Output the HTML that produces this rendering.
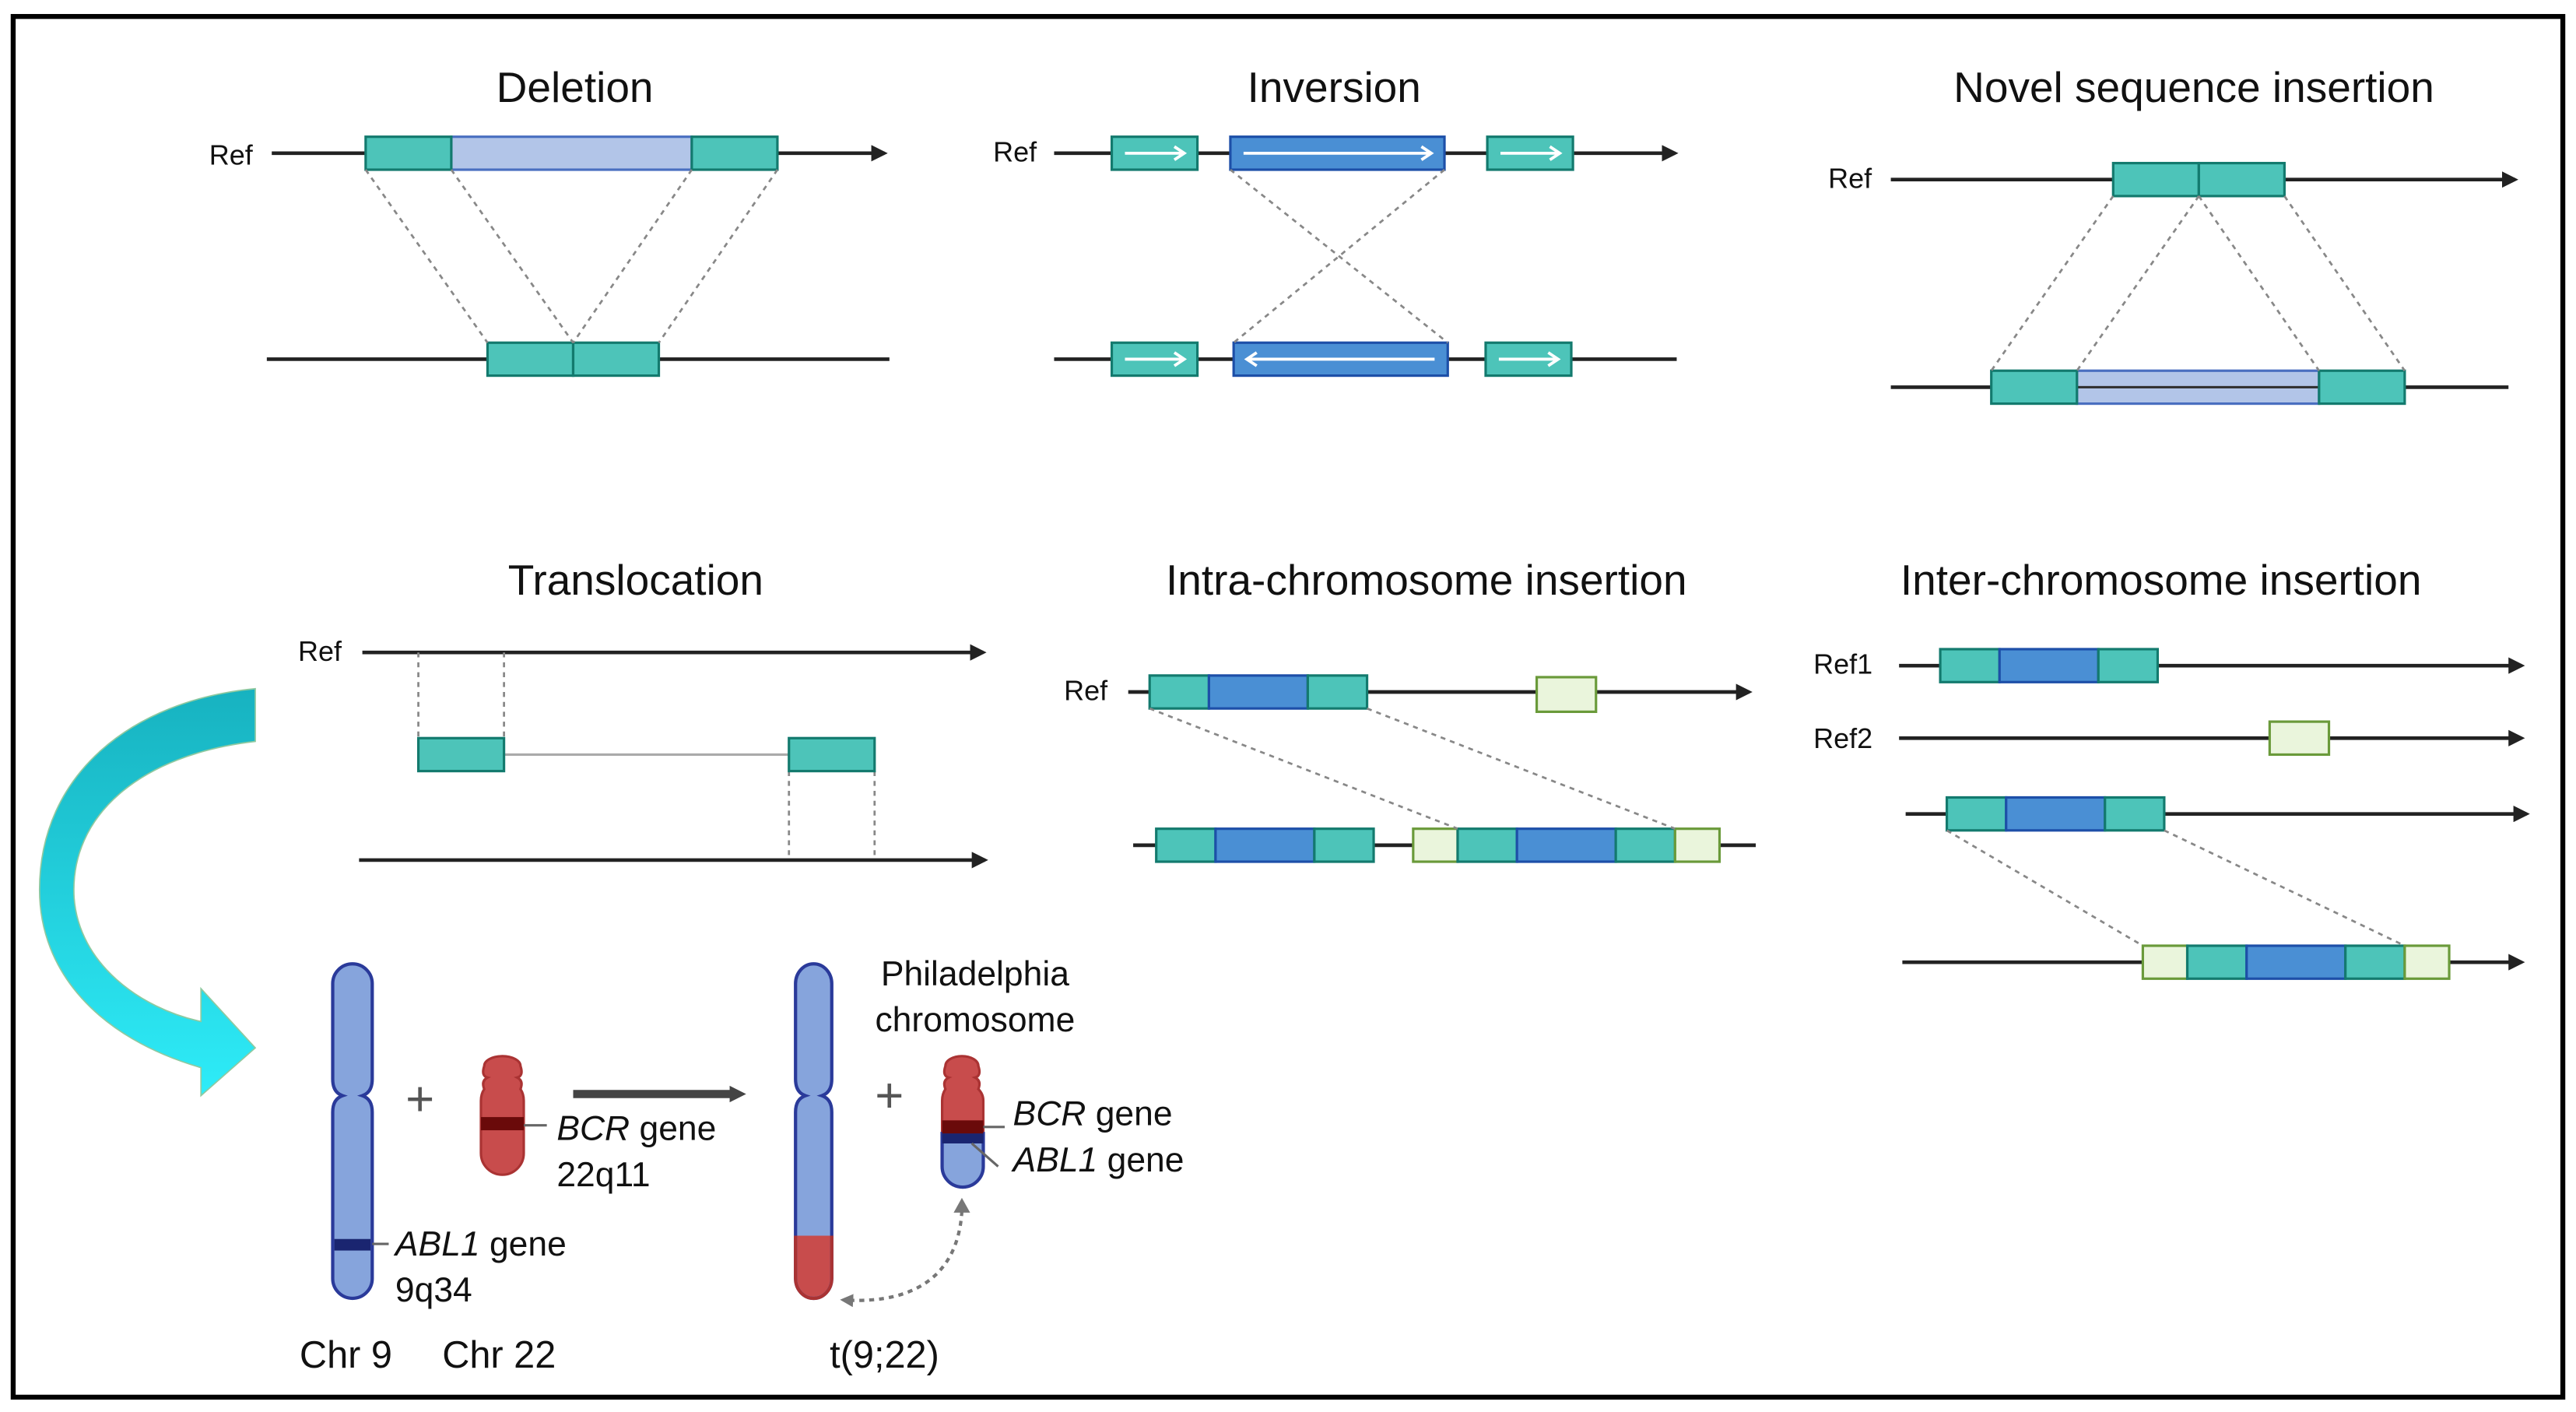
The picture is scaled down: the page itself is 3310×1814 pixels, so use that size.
<!DOCTYPE html>
<html><head><meta charset="utf-8"><style>
html,body{margin:0;padding:0;background:#fff;}
svg{display:block;}
text{font-family:"Liberation Sans",Arial,sans-serif;fill:#111;}
</style></head><body>
<svg width="3310" height="1814" viewBox="0 0 1564 857" preserveAspectRatio="none" xmlns="http://www.w3.org/2000/svg">
<defs>
<marker id="ah" markerWidth="10" markerHeight="10" refX="8" refY="5" orient="auto" markerUnits="userSpaceOnUse"><path d="M0,0 L10,5 L0,10 Z" fill="#222"/></marker>
<marker id="gh" markerWidth="8" markerHeight="8" refX="6" refY="4" orient="auto" markerUnits="userSpaceOnUse"><path d="M0,0 L8,4 L0,8 Z" fill="#777"/></marker>
<linearGradient id="cy" x1="0" y1="0" x2="0" y2="1"><stop offset="0" stop-color="#17b2c0"/><stop offset="1" stop-color="#2eecf8"/></linearGradient>
<style>
.ln{stroke:#222;stroke-width:2.2;fill:none}
.t{fill:#4dc4b9;stroke:#137a6e;stroke-width:1.5}
.b{fill:#4a8fd4;stroke:#1d4fa8;stroke-width:1.5}
.lb{fill:#b2c5e8;stroke:#4a6fc0;stroke-width:1.5}
.g{fill:#eaf5dc;stroke:#6a9a3a;stroke-width:1.5}
.d{stroke:#888;stroke-width:1.3;stroke-dasharray:3,3;fill:none}
.w{stroke:#fff;stroke-width:1.8;fill:none}
.ti{font-size:26px}
.rf{font-size:17px}
.lab{font-size:21px}
</style>
</defs>
<rect x="8" y="10" width="1548" height="838" fill="none" stroke="#000" stroke-width="3"/>

<!-- Deletion -->
<text class="ti" x="349" y="62" text-anchor="middle">Deletion</text>
<text class="rf" x="127" y="100">Ref</text>
<line class="ln" x1="165" y1="93" x2="537" y2="93" marker-end="url(#ah)"/>
<rect class="lb" x="274" y="83" width="146" height="20"/>
<rect class="t" x="222" y="83" width="52" height="20"/>
<rect class="t" x="420" y="83" width="52" height="20"/>
<line class="ln" x1="162" y1="218" x2="540" y2="218"/>
<rect class="t" x="296" y="208" width="52" height="20"/>
<rect class="t" x="348" y="208" width="52" height="20"/>
<path class="d" d="M222,103 L296,208 M274,103 L348,208 M420,103 L348,208 M472,103 L400,208"/>

<!-- Inversion -->
<text class="ti" x="810" y="62" text-anchor="middle">Inversion</text>
<text class="rf" x="603" y="98">Ref</text>
<line class="ln" x1="640" y1="93" x2="1017" y2="93" marker-end="url(#ah)"/>
<rect class="t" x="675" y="83" width="52" height="20"/>
<rect class="b" x="747" y="83" width="130" height="20"/>
<rect class="t" x="903" y="83" width="52" height="20"/>
<path class="w" d="M683,93 H719 M713,89 L719,93 L713,97 M755,93 H869 M863,89 L869,93 L863,97 M911,93 H947 M941,89 L947,93 L941,97"/>
<line class="ln" x1="640" y1="218" x2="1018" y2="218"/>
<rect class="t" x="675" y="208" width="52" height="20"/>
<rect class="b" x="749" y="208" width="130" height="20"/>
<rect class="t" x="902" y="208" width="52" height="20"/>
<path class="w" d="M683,218 H719 M713,214 L719,218 L713,222 M757,218 H871 M763,214 L757,218 L763,222 M910,218 H946 M940,214 L946,218 L940,222"/>
<path class="d" d="M747,103 L879,208 M877,103 L749,208"/>

<!-- Novel -->
<text class="ti" x="1332" y="62" text-anchor="middle">Novel sequence insertion</text>
<text class="rf" x="1110" y="114">Ref</text>
<line class="ln" x1="1148" y1="109" x2="1527" y2="109" marker-end="url(#ah)"/>
<rect class="t" x="1283" y="99" width="52" height="20"/>
<rect class="t" x="1335" y="99" width="52" height="20"/>
<line class="ln" x1="1148" y1="235" x2="1523" y2="235"/>
<rect class="lb" x="1261" y="225" width="147" height="20"/>
<line x1="1261" y1="235" x2="1408" y2="235" stroke="#333" stroke-width="1.5"/>
<rect class="t" x="1209" y="225" width="52" height="20"/>
<rect class="t" x="1408" y="225" width="52" height="20"/>
<path class="d" d="M1283,119 L1209,225 M1335,119 L1261,225 M1335,119 L1408,225 M1387,119 L1460,225"/>

<!-- Translocation -->
<text class="ti" x="386" y="361" text-anchor="middle">Translocation</text>
<text class="rf" x="181" y="401">Ref</text>
<line class="ln" x1="220" y1="396" x2="597" y2="396" marker-end="url(#ah)"/>
<path class="d" d="M254,396 V448 M306,396 V448 M479,468 V522 M531,468 V522"/>
<line x1="306" y1="458" x2="479" y2="458" stroke="#aaa" stroke-width="1.5"/>
<rect class="t" x="254" y="448" width="52" height="20"/>
<rect class="t" x="479" y="448" width="52" height="20"/>
<line class="ln" x1="218" y1="522" x2="598" y2="522" marker-end="url(#ah)"/>

<!-- Intra -->
<text class="ti" x="866" y="361" text-anchor="middle">Intra-chromosome insertion</text>
<text class="rf" x="646" y="425">Ref</text>
<line class="ln" x1="685" y1="420" x2="1062" y2="420" marker-end="url(#ah)"/>
<rect class="t" x="698" y="410" width="36" height="20"/>
<rect class="b" x="734" y="410" width="60" height="20"/>
<rect class="t" x="794" y="410" width="36" height="20"/>
<rect class="g" x="933" y="411" width="36" height="21"/>
<line class="ln" x1="688" y1="513" x2="1066" y2="513"/>
<rect class="t" x="702" y="503" width="36" height="20"/>
<rect class="b" x="738" y="503" width="60" height="20"/>
<rect class="t" x="798" y="503" width="36" height="20"/>
<rect class="g" x="858" y="503" width="27" height="20"/>
<rect class="t" x="885" y="503" width="36" height="20"/>
<rect class="b" x="921" y="503" width="60" height="20"/>
<rect class="t" x="981" y="503" width="36" height="20"/>
<rect class="g" x="1017" y="503" width="27" height="20"/>
<path class="d" d="M698,430 L885,503 M830,430 L1017,503"/>

<!-- Inter -->
<text class="ti" x="1312" y="361" text-anchor="middle">Inter-chromosome insertion</text>
<text class="rf" x="1101" y="409">Ref1</text>
<line class="ln" x1="1153" y1="404" x2="1531" y2="404" marker-end="url(#ah)"/>
<rect class="t" x="1178" y="394" width="36" height="20"/>
<rect class="b" x="1214" y="394" width="60" height="20"/>
<rect class="t" x="1274" y="394" width="36" height="20"/>
<text class="rf" x="1101" y="454">Ref2</text>
<line class="ln" x1="1153" y1="448" x2="1531" y2="448" marker-end="url(#ah)"/>
<rect class="g" x="1378" y="438" width="36" height="20"/>
<line class="ln" x1="1157" y1="494" x2="1534" y2="494" marker-end="url(#ah)"/>
<rect class="t" x="1182" y="484" width="36" height="20"/>
<rect class="b" x="1218" y="484" width="60" height="20"/>
<rect class="t" x="1278" y="484" width="36" height="20"/>
<line class="ln" x1="1155" y1="584" x2="1531" y2="584" marker-end="url(#ah)"/>
<rect class="g" x="1301" y="574" width="27" height="20"/>
<rect class="t" x="1328" y="574" width="36" height="20"/>
<rect class="b" x="1364" y="574" width="60" height="20"/>
<rect class="t" x="1424" y="574" width="36" height="20"/>
<rect class="g" x="1460" y="574" width="27" height="20"/>
<path class="d" d="M1182,504 L1301,574 M1314,504 L1460,574"/>

<!-- curved cyan arrow -->
<path d="M155,418 L155,450 C85,458 42,495 45,545 C48,585 85,612 122,620 L122,600 L155,636 L122,665 L122,648 C60,630 24,590 24,540 C24,470 80,425 155,418 Z" fill="url(#cy)" stroke="#8fc9a0" stroke-width="0.8"/>

<!-- Chr 9 -->
<path d="M202,597 A12,12 0 0 1 226,597 V655 Q226,663 220,665 Q226,667 226,675 V776 A12,12 0 0 1 202,776 V675 Q202,667 208,665 Q202,663 202,655 Z" fill="#86a4dc" stroke="#2a3a9a" stroke-width="2"/>
<rect x="203" y="752" width="22" height="7" fill="#1a2570"/>
<line x1="226" y1="755" x2="236" y2="755" stroke="#666" stroke-width="1.5"/>
<text class="lab" x="240" y="762"><tspan font-style="italic">ABL1</tspan> gene</text>
<text class="lab" x="240" y="790">9q34</text>
<text style="font-size:30px;fill:#555" x="255" y="677" text-anchor="middle">+</text>
<!-- Chr 22 -->
<path d="M294,647 A11,6 0 0 1 316,647 Q318,653 314,654 Q318,656 316,661 Q318,664 318,668 V700 A13,13 0 0 1 292,700 V668 Q292,664 294,661 Q292,656 296,654 Q292,653 294,647 Z" fill="#c84c4c" stroke="#a33" stroke-width="1.5"/>
<rect x="292" y="678" width="26" height="8" fill="#6a0a0a"/>
<line x1="318" y1="683" x2="332" y2="683" stroke="#666" stroke-width="1.5"/>
<text class="lab" x="338" y="692"><tspan font-style="italic">BCR</tspan> gene</text>
<text class="lab" x="338" y="720">22q11</text>
<line x1="348" y1="664" x2="446" y2="664" stroke="#444" stroke-width="5"/>
<path d="M443,659 L453,664 L443,669 Z" fill="#444"/>
<!-- der 9 -->
<path d="M483,597 A11,12 0 0 1 505,597 V655 Q505,663 499,665 Q505,667 505,675 V776 A11,12 0 0 1 483,776 V675 Q483,667 489,665 Q483,663 483,655 Z" fill="#86a4dc" stroke="#2a3a9a" stroke-width="2"/>
<path d="M484,750 H504 V776 A10,11 0 0 1 484,776 Z" fill="#c84c4c"/>
<path d="M483,750 V776 A11,12 0 0 0 505,776 V750" fill="none" stroke="#a33" stroke-width="2"/>
<text style="font-size:30px;fill:#555" x="540" y="675" text-anchor="middle">+</text>
<!-- Ph -->
<path d="M574,647 A10,6 0 0 1 594,647 Q596,653 592,654 Q596,656 594,661 Q597,664 597,668 V708 A12.5,12.5 0 0 1 572,708 V668 Q572,664 574,661 Q572,656 576,654 Q572,653 574,647 Z" fill="#c84c4c" stroke="#a33" stroke-width="1.5"/>
<path d="M572,688 H597 V708 A12.5,12.5 0 0 1 572,708 Z" fill="#86a4dc" stroke="#2a3a9a" stroke-width="2"/>
<rect x="572" y="680" width="25" height="8" fill="#6a0a0a"/>
<rect x="572" y="688" width="25" height="6" fill="#1a2570"/>
<line x1="597" y1="684" x2="610" y2="684" stroke="#666" stroke-width="1.5"/>
<line x1="590" y1="694" x2="606" y2="708" stroke="#666" stroke-width="1.5"/>
<text class="lab" x="615" y="683"><tspan font-style="italic">BCR</tspan> gene</text>
<text class="lab" x="615" y="711"><tspan font-style="italic">ABL1</tspan> gene</text>
<text class="lab" x="592" y="598" text-anchor="middle">Philadelphia</text>
<text class="lab" x="592" y="626" text-anchor="middle">chromosome</text>
<path d="M584,735 C582,770 560,792 512,789" fill="none" stroke="#777" stroke-width="2" stroke-dasharray="3,3" marker-end="url(#gh)"/>
<path d="M579,736 L584,727 L589,736 Z" fill="#777"/>

<text class="lab" style="font-size:23px" x="210" y="830" text-anchor="middle">Chr 9</text>
<text class="lab" style="font-size:23px" x="303" y="830" text-anchor="middle">Chr 22</text>
<text class="lab" style="font-size:23px" x="537" y="830" text-anchor="middle">t(9;22)</text>
</svg>
</body></html>
